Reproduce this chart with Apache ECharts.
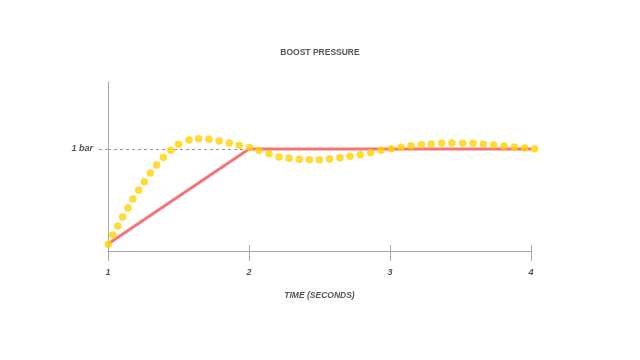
<!DOCTYPE html>
<html><head><meta charset="utf-8">
<script src="https://cdn.jsdelivr.net/npm/echarts@6/dist/echarts.min.js"></script>
<style>html,body{margin:0;padding:0;background:#fff}#c{width:640px;height:360px}</style>
</head><body><div id="c"></div>
<script>
var title = 'BOOST PRESSURE';
var xName = 'TIME (SECONDS)';
var yRefLabel = '1 bar';
var yRefValue = 1;
var xTicks = [1, 2, 3, 4];
var targetX = [1, 2, 4];
var targetY = [0.069, 1, 1];
var actualX = [1.002,1.033,1.069,1.104,1.142,1.177,1.218,1.257,1.300,1.345,1.392,1.445,1.500,1.574,1.643,1.716,1.789,1.860,1.931,2.004,2.071,2.142,2.213,2.284,2.357,2.428,2.499,2.572,2.645,2.716,2.789,2.863,2.936,3.009,3.078,3.149,3.222,3.293,3.367,3.440,3.516,3.589,3.662,3.735,3.809,3.882,3.955,4.026];
var actualY = [0.066,0.157,0.245,0.333,0.422,0.510,0.595,0.679,0.765,0.843,0.919,0.987,1.047,1.088,1.101,1.095,1.078,1.059,1.036,1.015,0.985,0.953,0.922,0.909,0.899,0.895,0.895,0.902,0.915,0.928,0.944,0.964,0.987,1.003,1.017,1.032,1.042,1.049,1.056,1.059,1.056,1.056,1.049,1.039,1.029,1.020,1.010,1.003];

var target = targetX.map(function(x,i){return [x, targetY[i]];});
var actual = actualX.map(function(x,i){return [x, actualY[i]];});
var font = 'Liberation Sans, Arial, sans-serif';
var axisGrey = '#a8a8a8';

var chart = echarts.init(document.getElementById('c'), null, {renderer:'canvas'});
chart.setOption({
  animation: false,
  backgroundColor: '#fff',
  title: {text: title, left: 'center', top: 43,
    textStyle: {fontSize: 8.5, fontWeight: 'bold', color: '#555', fontFamily: font}},
  grid: [
    {left: 108, right: 109, top: 82, bottom: 109},
    {left: 108, right: 109, top: 82, bottom: 109}
  ],
  xAxis: [
    {gridIndex: 0, type: 'value', min: 1, max: 4, interval: 1,
      axisLine: {show: true, onZero: false, lineStyle: {color: axisGrey, width: 1}},
      axisTick: {show: true, length: 10, lineStyle: {color: axisGrey}},
      splitLine: {show: false},
      axisLabel: {margin: 17, fontSize: 9, fontStyle: 'italic', fontWeight: 'bold', color: '#555', fontFamily: font,
        formatter: function(v){ return xTicks.indexOf(v) >= 0 ? String(v) : ''; }},
      name: xName, nameLocation: 'middle', nameGap: 40,
      nameTextStyle: {fontSize: 8.5, fontStyle: 'italic', fontWeight: 'bold', color: '#555', fontFamily: font}
    },
    {gridIndex: 1, type: 'value', min: 1, max: 4, interval: 1,
      axisLine: {show: false},
      axisTick: {show: true, inside: true, length: 6, lineStyle: {color: axisGrey}},
      axisLabel: {show: false}, splitLine: {show: false}
    }
  ],
  yAxis: [
    {gridIndex: 0, type: 'value', min: 0, max: 1.657, interval: 1,
      axisLine: {show: true, onZero: false, lineStyle: {color: axisGrey, width: 1}},
      axisTick: {show: true, length: 9, customValues: [yRefValue], lineStyle: {color: '#999', type: [3, 3]}},
      splitLine: {show: true, lineStyle: {color: '#999', type: [3, 3], width: 1}},
      axisLabel: {margin: 15, fontSize: 9, fontStyle: 'italic', fontWeight: 'bold', color: '#555', fontFamily: font,
        customValues: [yRefValue],
        formatter: function(v){ return v === yRefValue ? yRefLabel : ''; }}
    },
    {gridIndex: 1, type: 'value', min: 0, max: 1.657, show: false}
  ],
  series: [
    {type: 'line', xAxisIndex: 0, yAxisIndex: 0, data: target, symbol: 'none',
      lineStyle: {color: '#f27676', width: 3}, z: 3},
    {type: 'scatter', xAxisIndex: 0, yAxisIndex: 0, data: actual, symbolSize: 7.5, clip: false,
      itemStyle: {color: '#ffd200'}, z: 4}
  ]
});
</script></body></html>
